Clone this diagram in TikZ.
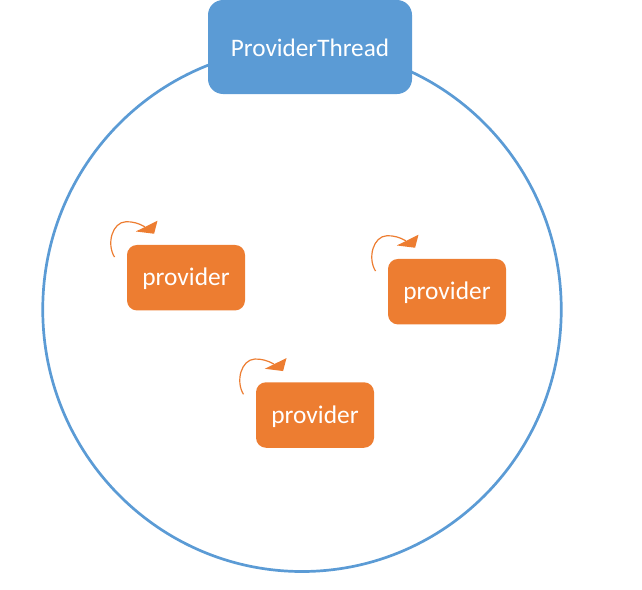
\documentclass[tikz,border=0pt]{standalone}
\usetikzlibrary{shapes.geometric}
\usepackage{fontspec}
\setmainfont{Carlito}
\definecolor{oblue}{HTML}{5B9BD5}
\definecolor{oorange}{HTML}{ED7D31}
\newcommand{\lowered}[2]{\raisebox{-#1}[0pt][0pt]{#2}}
\tikzset{
  x=1pt,y=-1pt,
  threadbox/.style={fill=oblue,rounded corners=15pt,minimum width=204pt,minimum height=94pt,inner sep=0pt,text=white,font=\fontsize{25.2}{30}\selectfont},
  providerbox/.style={fill=oorange,rounded corners=10pt,minimum width=118pt,minimum height=65.5pt,inner sep=0pt,text=white,font=\fontsize{25.4}{30}\selectfont},
  ring/.style={draw=oblue,line width=2.7pt},
  loopline/.style={draw=oorange,line width=1.2pt},
  loophead/.style={fill=oorange},
  selfloop/.pic={
    \draw[loopline] (-12.3,12.3) .. controls (-20.5,-1) and (-14.5,-22.5) .. (-1,-23) .. controls (5.5,-23.3) and (12,-21.5) .. (18,-18);
    \fill[loophead] (30.7,-24) -- (9,-13.3) -- (27.3,-11) -- cycle;
  }
}
\begin{document}
\begin{tikzpicture}
\useasboundingbox (0,0) rectangle (642,589);
\node[ring,ellipse,minimum width=518.5pt,minimum height=524pt,inner sep=0pt] (orbit) at (302,309.5) {};
\node[threadbox] (thread) at (310,47) {\lowered{9.5pt}{ProviderThread}};
\node[providerbox] (p1) at (186,277.7) {\lowered{8pt}{provider}};
\node[providerbox] (p2) at (447,291.7) {\lowered{8pt}{provider}};
\node[providerbox] (p3) at (315,415) {\lowered{8pt}{provider}};
\pic at (p1.north west) {selfloop};
\pic at (p2.north west) {selfloop};
\pic at (p3.north west) {selfloop};
\end{tikzpicture}
\end{document}
